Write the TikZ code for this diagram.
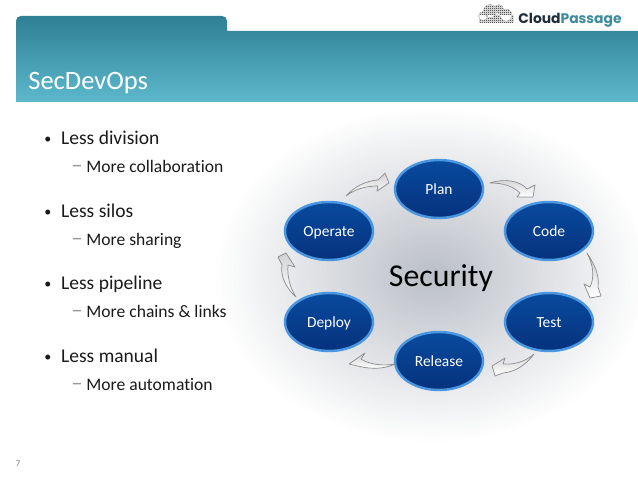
\documentclass[tikz,border=0pt]{standalone}
\usepackage{fontspec}
\usetikzlibrary{shapes.geometric}
\setmainfont[Ligatures=NoCommon]{Carlito}
\newfontfamily\logofont{Poppins}
\definecolor{barTop}{RGB}{47,128,148}
\definecolor{barBottom}{RGB}{93,184,204}
\definecolor{haze}{RGB}{186,190,198}
\definecolor{phaseRim}{RGB}{74,150,225}
\definecolor{phaseTop}{RGB}{8,74,158}
\definecolor{phaseBottom}{RGB}{6,50,125}
\definecolor{inkDark}{RGB}{26,26,26}
\definecolor{logoDark}{RGB}{30,45,55}
\definecolor{logoTeal}{RGB}{62,140,155}
\tikzset{
  phase/.style={ellipse,draw=phaseRim,line width=1.4pt,top color=phaseTop,bottom color=phaseBottom,
    minimum width=1.76cm,minimum height=1.16cm,inner sep=0pt,text=white,text height=8pt,text depth=1.8pt,
    font=\fontsize{8.8}{10}\selectfont},
  linkarrow/.style={draw=gray!90,line width=.4pt,top color=gray!35,bottom color=white,line join=round},
  bigline/.style={anchor=base west,inner sep=0pt,text=inkDark,font=\fontsize{11.1}{13}\selectfont},
  subline/.style={anchor=base west,inner sep=0pt,text=inkDark,font=\fontsize{10}{12}\selectfont},
}
\newcommand{\dashmark}{\makebox[8.6pt][l]{\color{gray!80}\fontsize{13}{14}\selectfont--}}
\newcommand{\dotmark}{\makebox[9.6pt][l]{\raisebox{.5pt}{\fontsize{8}{9}\selectfont\textbullet}}}
\begin{document}
\begin{tikzpicture}[x=.02cm,y=-.02cm]
  \useasboundingbox (0,0) rectangle (638,479);
  \foreach \glow in {100,98,...,2} % Grey glow behind the ring
    \fill[white!\glow!haze] (432,275) ellipse ({2.2*\glow} and {1.7*\glow});
  \shade[top color=barTop,bottom color=barBottom] (16,102) -- (16,21) .. controls (16,18) and (18,16) .. (21,16) -- (222,16) .. controls (225,16) and (227,18) .. (227,21) -- (227,31) -- (638,31) -- (638,102) -- cycle;
  \node (title) [anchor=base west,inner sep=0pt,text=white,font=\fontsize{15.1}{18}\selectfont] at (28,90) {SecDevOps};
  \begin{scope} % Logo cloud
    \clip (490,11) circle (6.5) (483,16) circle (4.5) (499,9) circle (4.5) (506,15) circle (6) (479,15) rectangle (513,23);
    \fill[gray!70!black] (475,3) rectangle (516,24);
    \foreach \gridx in {479,481,...,513} \draw[gray!35,line width=.2pt] (\gridx,3) -- (\gridx,24);
    \foreach \gridy in {5,7,...,23} \draw[gray!35,line width=.2pt] (475,\gridy) -- (516,\gridy);
  \end{scope}
  \node (logo) [anchor=base west,inner sep=0pt,font=\logofont\bfseries\fontsize{7.9}{10}\selectfont] at (518,24) {\textcolor{logoDark}{Cloud}\textcolor{logoTeal}{Passage}};
  % Left column
  \node (less1) [bigline] at (44,144.5) {\dotmark Less division};
  \node (more1) [subline] at (71,172.5) {\dashmark More collaboration};
  \node (less2) [bigline] at (44,217.5) {\dotmark Less silos};
  \node (more2) [subline] at (71,245.5) {\dashmark More sharing};
  \node (less3) [bigline] at (44,289.5) {\dotmark Less pipeline};
  \node (more3) [subline] at (71,317.5) {\dashmark More chains \& links};
  \node (less4) [bigline] at (44,362.5) {\dotmark Less manual};
  \node (more4) [subline] at (71,390.5) {\dashmark More automation};
  \node (pagenum) [inner sep=0pt,text=gray,font=\fontsize{5}{6}\selectfont] at (18,464) {7};
  % Ring of phases
  \node (plan) [phase] at (439,189) {Plan};
  \node (code) [phase] at (549,231) {Code};
  \node (test) [phase] at (549,322) {Test};
  \node (release) [phase] at (439,361) {Release};
  \node (deploy) [phase] at (329,322) {Deploy};
  \node (operate) [phase] at (329,231) {Operate};
  \node (security) [anchor=base,inner sep=0pt,text=black,font=\fontsize{18.1}{22}\selectfont] at (441,286) {Security};
  % Arrow ends
  \coordinate (planTail) at ([shift={(51,-6)}]plan.center);
  \coordinate (codeTip) at ([shift={(-16,-34)}]code.center);
  \coordinate (codeTail) at ([shift={(38,22)}]code.center);
  \coordinate (testTip) at ([shift={(41,-24)}]test.center);
  \coordinate (testTail) at ([shift={(-15,32)}]test.center);
  \coordinate (releaseTip) at ([shift={(53,5)}]release.center);
  \coordinate (releaseTail) at ([shift={(-44,3)}]release.center);
  \coordinate (deployTip) at ([shift={(20,42)}]deploy.center);
  \coordinate (deployTail) at ([shift={(-33,-25)}]deploy.center);
  \coordinate (operateTip) at ([shift={(-43,22)}]operate.center);
  \coordinate (operateTail) at ([shift={(17,-35)}]operate.center);
  \coordinate (planTip) at ([shift={(-50,-6)}]plan.center);
  % Curved arrows
  \draw[linkarrow] (planTail) .. controls (505,178) and (520,181) .. (527,189) -- (535,185) -- (codeTip) -- (517,197) -- (520,193) .. controls (513,186) and (503,183) .. (planTail) -- cycle;
  \draw[linkarrow] (codeTail) .. controls (593,262) and (600,275) .. (598,287) -- (601,296) -- (testTip) -- (584,284) -- (590,287) .. controls (595,277) and (593,264) .. (codeTail) -- cycle;
  \draw[linkarrow] (testTail) .. controls (526,365) and (515,372) .. (503,373) -- (495,376) -- (releaseTip) -- (505,358) -- (503,364) .. controls (515,365) and (526,361) .. (testTail) -- cycle;
  \draw[linkarrow] (releaseTail) .. controls (385,369) and (372,369) .. (362,367) -- (deployTip) -- (365,353) -- (361,359) .. controls (370,365) and (385,366) .. (releaseTail) -- cycle;
  \draw[linkarrow] (deployTail) .. controls (286,288) and (280,276) .. (282,265) -- (278,257) -- (operateTip) -- (295,267) -- (288,265) .. controls (287,276) and (290,288) .. (deployTail) -- cycle;
  \draw[linkarrow] (operateTail) .. controls (355,186) and (366,181) .. (378,180) -- (385,173) -- (planTip) -- (377,191) -- (378,186) .. controls (366,186) and (355,189) .. (operateTail) -- cycle;
\end{tikzpicture}
\end{document}
